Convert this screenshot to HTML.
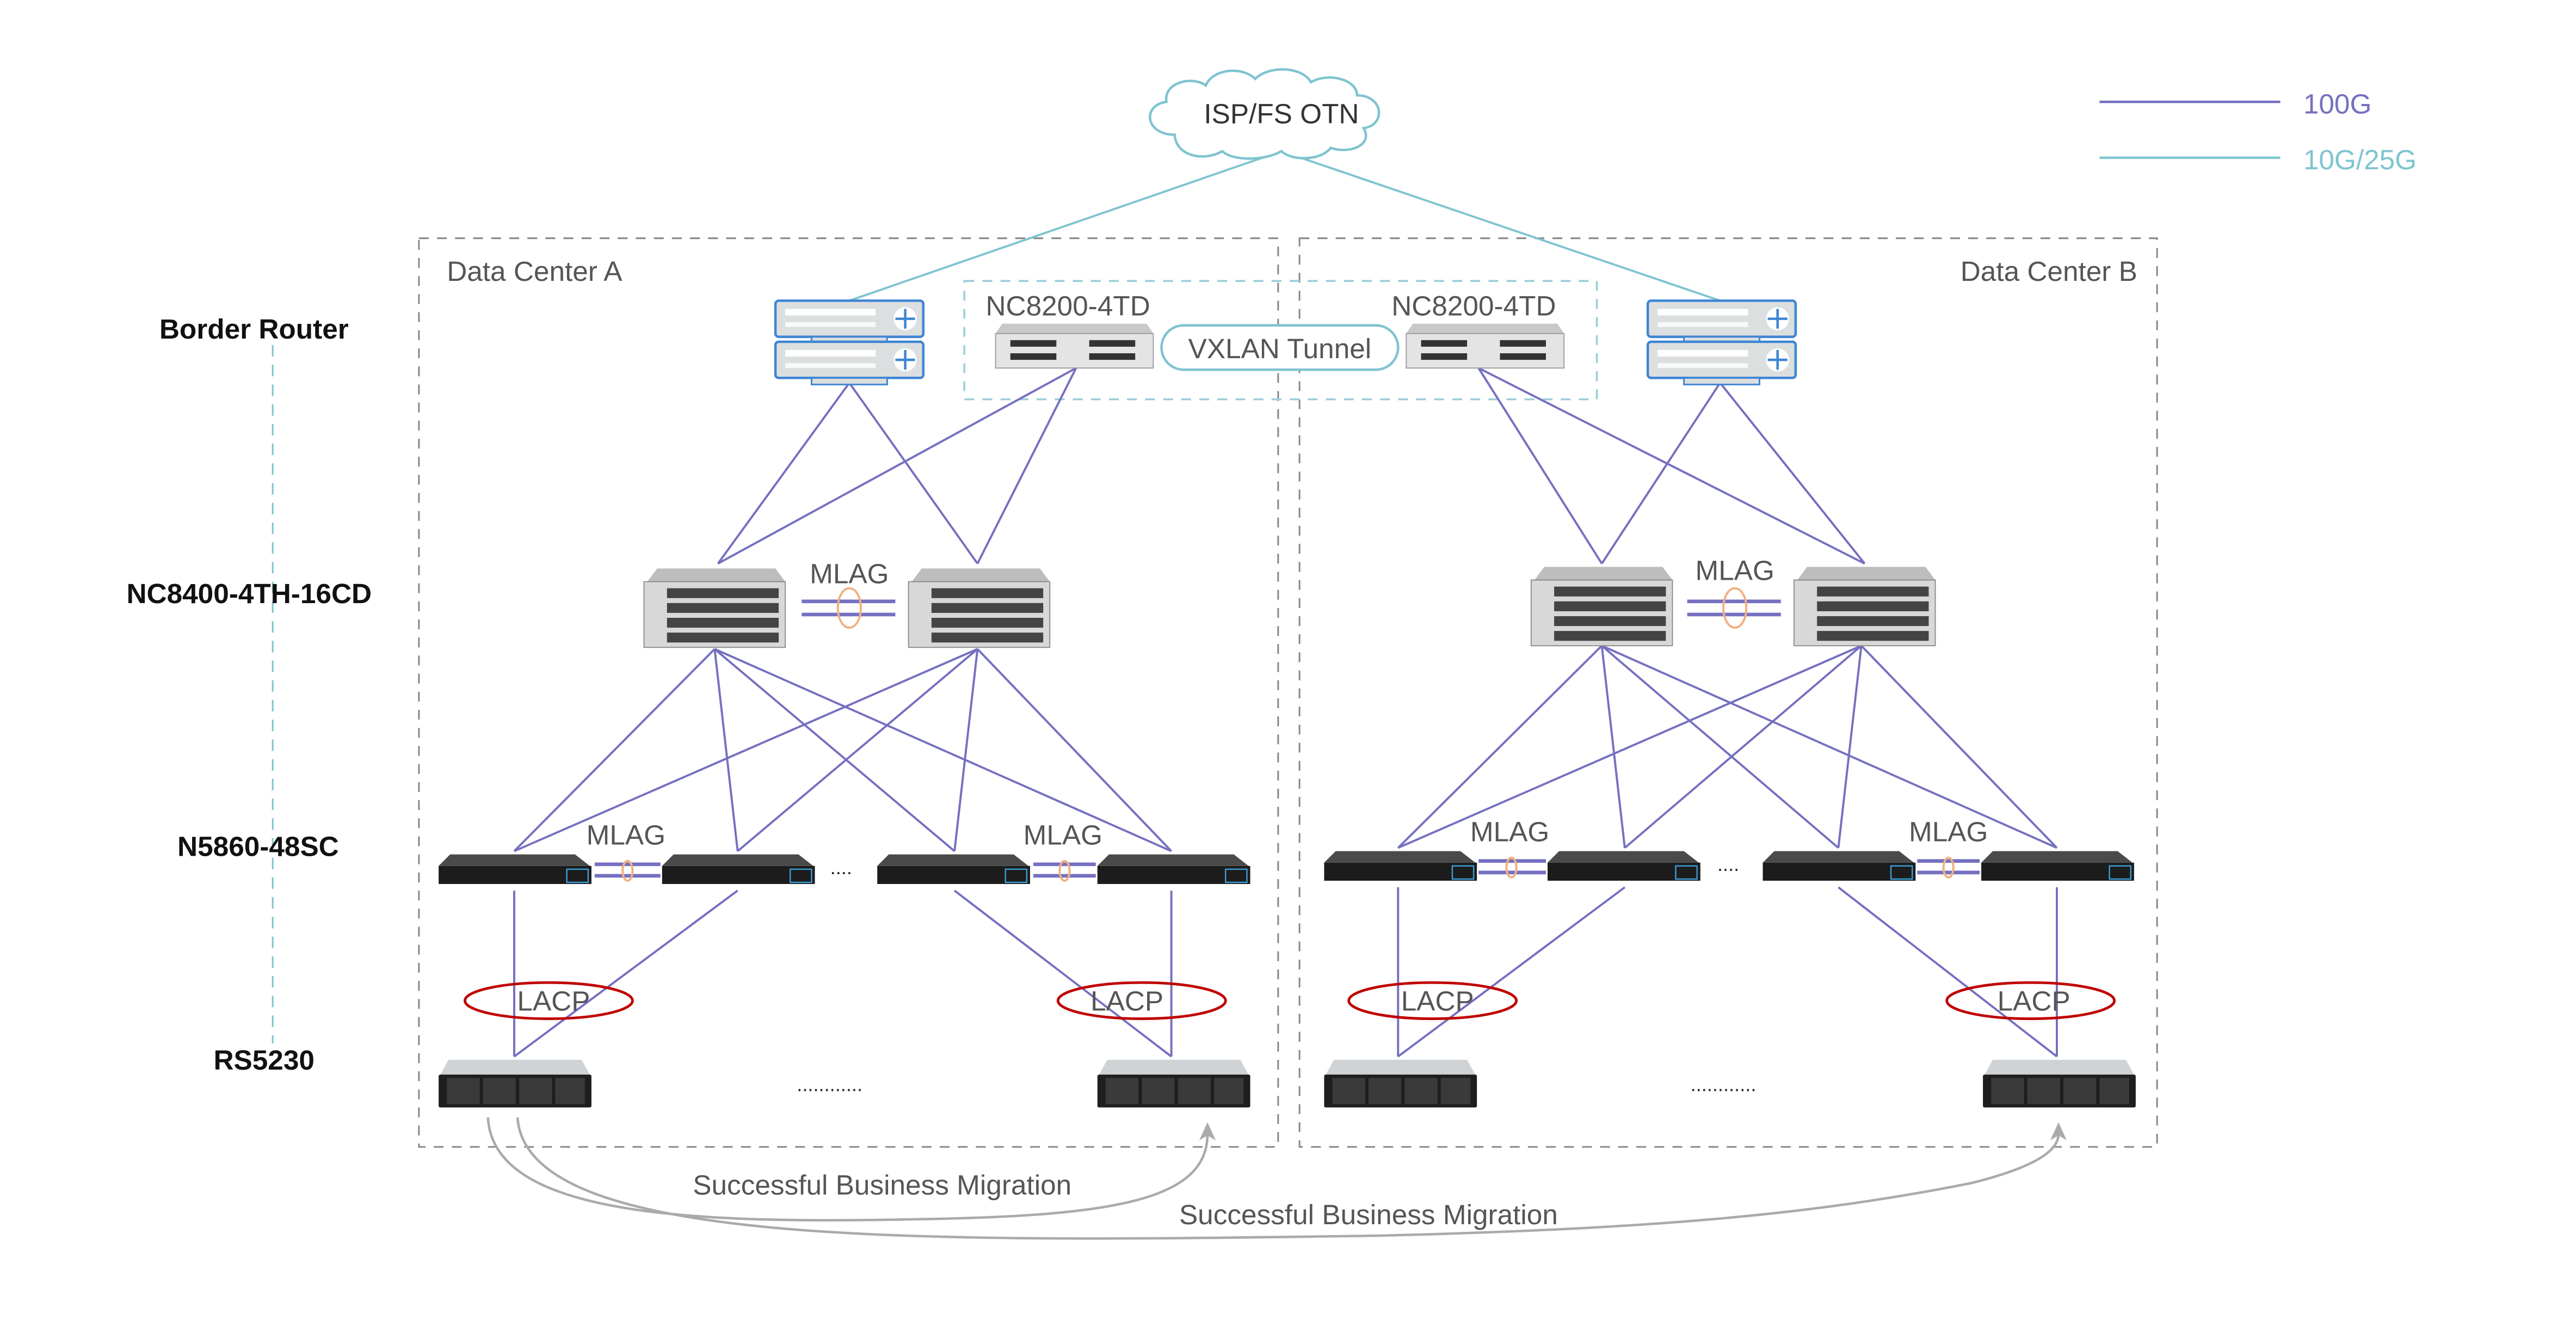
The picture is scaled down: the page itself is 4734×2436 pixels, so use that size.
<!DOCTYPE html>
<html><head><meta charset="utf-8"><style>
html,body{margin:0;padding:0;background:#fff;}
svg{display:block;}
text{font-family:"Liberation Sans",sans-serif;}
</style></head><body>
<svg width="4734" height="2436" viewBox="0 0 1568 807" preserveAspectRatio="none" xmlns="http://www.w3.org/2000/svg">
<defs>
<g id="router">
 <rect x="0" y="0" width="90" height="22" rx="2" fill="#dcdfe0" stroke="#3f86d4" stroke-width="1.5"/>
 <rect x="6" y="5" width="55" height="4" fill="#fff"/>
 <rect x="6" y="13" width="55" height="3" fill="#fff" opacity="0.8"/>
 <circle cx="79" cy="11" r="7" fill="#fff"/>
 <path d="M79 5v12M73 11h12" stroke="#3f86d4" stroke-width="1.5"/>
 <rect x="22" y="22" width="46" height="4" fill="#dcdfe0" stroke="#3f86d4" stroke-width="1"/>
</g>
<g id="nc8200">
 <path d="M3 0h88l4 6H-1z" fill="#c8c8c8"/>
 <rect x="-1" y="6" width="96" height="21" fill="#e4e4e4" stroke="#999" stroke-width="0.6"/>
 <g fill="#333"><rect x="8" y="10" width="28" height="4"/><rect x="8" y="18" width="28" height="4"/><rect x="56" y="10" width="28" height="4"/><rect x="56" y="18" width="28" height="4"/></g>
</g>
<g id="core">
 <path d="M8 0h72l6 8H2z" fill="#bdbdbd"/>
 <rect x="0" y="8" width="86" height="40" fill="#d8d8d8" stroke="#888" stroke-width="0.6"/>
 <g fill="#444"><rect x="14" y="12" width="68" height="6"/><rect x="14" y="21" width="68" height="6"/><rect x="14" y="30" width="68" height="6"/><rect x="14" y="39" width="68" height="6"/></g>
</g>
<g id="acc">
 <path d="M7 0h76l9 7H0z" fill="#4a4a4a"/>
 <rect x="0" y="7" width="93" height="11" fill="#1c1c1c"/>
 <rect x="78" y="9" width="13" height="8" fill="none" stroke="#3a9fd8" stroke-width="0.8"/>
</g>
<g id="srv">
 <path d="M6 0h81l5 9H1z" fill="#cfd3d6"/>
 <rect x="0" y="9" width="93" height="20" rx="1" fill="#1e1e1e"/>
 <g fill="#3a3a3a"><rect x="5" y="11" width="20" height="16"/><rect x="27" y="11" width="20" height="16"/><rect x="49" y="11" width="20" height="16"/><rect x="71" y="11" width="18" height="16"/></g>
</g>
</defs>

<line x1="1278" y1="62" x2="1388" y2="62" stroke="#7570c0" stroke-width="1.5"/>
<text x="1402" y="69" font-size="17" fill="#7570c0">100G</text>
<line x1="1278" y1="96" x2="1388" y2="96" stroke="#7fc4d0" stroke-width="1.5"/>
<text x="1402" y="103" font-size="17" fill="#7fc4d0">10G/25G</text>

<rect x="255" y="145" width="523" height="553" fill="none" stroke="#888" stroke-width="1" stroke-dasharray="6,5"/>
<rect x="791" y="145" width="522" height="553" fill="none" stroke="#888" stroke-width="1" stroke-dasharray="6,5"/>
<text x="272" y="171" font-size="17" fill="#555">Data Center A</text>
<text x="1301" y="171" font-size="17" fill="#555" text-anchor="end">Data Center B</text>
<rect x="587" y="171" width="385" height="72" fill="none" stroke="#9ccfd9" stroke-width="1.2" stroke-dasharray="6,5"/>

<line x1="166" y1="210" x2="166" y2="635" stroke="#7fc4d0" stroke-width="1" stroke-dasharray="7,5"/>
<g font-size="17" font-weight="bold" fill="#111">
<text x="97" y="206">Border Router</text>
<text x="77" y="367">NC8400-4TH-16CD</text>
<text x="108" y="521">N5860-48SC</text>
<text x="130" y="651">RS5230</text>
</g>

<line x1="780" y1="92" x2="517" y2="183" stroke="#7fc4d0" stroke-width="1.3"/>
<line x1="780" y1="92" x2="1047" y2="183" stroke="#7fc4d0" stroke-width="1.3"/>

<g stroke="#7570c0" stroke-width="1.3" fill="none">
<path d="M517 233L437 343M517 233L595 343M655 224L437 343M655 224L595 343"/>
<path d="M1047 233L975 343M1047 233L1135 343M900 224L975 343M900 224L1135 343"/>
<path d="M435 395L313 518M435 395L449 518M435 395L581 518M435 395L713 518M595 395L313 518M595 395L449 518M595 395L581 518M595 395L713 518"/>
<path d="M975 393L851 516M975 393L989 516M975 393L1119 516M975 393L1252 516M1133 393L851 516M1133 393L989 516M1133 393L1119 516M1133 393L1252 516"/>
<path d="M313 542L313 643M449 542L313 643M581 542L713 643M713 542L713 643"/>
<path d="M851 540L851 643M989 540L851 643M1119 540L1252 643M1252 540L1252 643"/>
<g stroke-width="2.2"><path d="M488 366h57M488 374h57M1027 366h57M1027 374h57M362 526h40M362 533h40M629 526h38M629 533h38M900 524h41M900 531h41M1167 524h38M1167 531h38"/></g>
</g>
<g fill="none" stroke="#f0b080" stroke-width="1.3">
<ellipse cx="517" cy="370" rx="7" ry="12"/><ellipse cx="1056" cy="370" rx="7" ry="12"/>
<ellipse cx="382" cy="530" rx="3" ry="6"/><ellipse cx="648" cy="530" rx="3" ry="6"/>
<ellipse cx="920" cy="528" rx="3" ry="6"/><ellipse cx="1186" cy="528" rx="3" ry="6"/>
</g>

<path d="M715 82c-18 0-20-18-5-20c-2-12 16-16 24-10c4-10 22-12 30-4c8-8 28-8 34 2c10-6 28-2 28 8c16 0 18 18 4 20c6 10-8 16-20 12c-6 8-24 8-30 2c-10 6-30 6-36 0c-10 6-28 4-29-10z" fill="#fff" stroke="#7fc4d0" stroke-width="1.5"/>
<text x="780" y="75" font-size="17" fill="#333" text-anchor="middle">ISP/FS OTN</text>

<use href="#router" x="472" y="183"/><use href="#router" x="472" y="208"/>
<use href="#router" x="1003" y="183"/><use href="#router" x="1003" y="208"/>
<use href="#nc8200" x="607" y="197"/><use href="#nc8200" x="857" y="197"/>
<text x="600" y="192" font-size="17" fill="#555">NC8200-4TD</text>
<text x="847" y="192" font-size="17" fill="#555">NC8200-4TD</text>
<rect x="707" y="198" width="144" height="27" rx="13.5" fill="#fff" stroke="#7fc4d0" stroke-width="1.5"/>
<text x="779" y="218" font-size="17" fill="#555" text-anchor="middle">VXLAN Tunnel</text>

<use href="#core" x="392" y="346"/><use href="#core" x="553" y="346"/>
<use href="#core" x="932" y="345"/><use href="#core" x="1092" y="345"/>
<text x="517" y="355" font-size="17" fill="#555" text-anchor="middle">MLAG</text>
<text x="1056" y="353" font-size="17" fill="#555" text-anchor="middle">MLAG</text>

<use href="#acc" x="267" y="520"/><use href="#acc" x="403" y="520"/><use href="#acc" x="534" y="520"/><use href="#acc" x="668" y="520"/>
<use href="#acc" x="806" y="518"/><use href="#acc" x="942" y="518"/><use href="#acc" x="1073" y="518"/><use href="#acc" x="1206" y="518"/>
<text x="381" y="514" font-size="17" fill="#555" text-anchor="middle">MLAG</text>
<text x="647" y="514" font-size="17" fill="#555" text-anchor="middle">MLAG</text>
<text x="919" y="512" font-size="17" fill="#555" text-anchor="middle">MLAG</text>
<text x="1186" y="512" font-size="17" fill="#555" text-anchor="middle">MLAG</text>
<text x="512" y="532" font-size="12" fill="#222" text-anchor="middle">....</text>
<text x="1052" y="530" font-size="12" fill="#222" text-anchor="middle">....</text>

<use href="#srv" x="267" y="645"/><use href="#srv" x="668" y="645"/>
<use href="#srv" x="806" y="645"/><use href="#srv" x="1207" y="645"/>
<text x="505" y="664" font-size="12" fill="#222" text-anchor="middle">............</text>
<text x="1049" y="664" font-size="12" fill="#222" text-anchor="middle">............</text>

<g fill="none" stroke="#c00000" stroke-width="1.6">
<ellipse cx="334" cy="609" rx="51" ry="11"/><ellipse cx="695" cy="609" rx="51" ry="11"/>
<ellipse cx="872" cy="609" rx="51" ry="11"/><ellipse cx="1236" cy="609" rx="51" ry="11"/>
</g>
<g font-size="17" fill="#555" text-anchor="middle">
<text x="337" y="615">LACP</text><text x="686" y="615">LACP</text>
<text x="875" y="615">LACP</text><text x="1238" y="615">LACP</text>
</g>

<g fill="none" stroke="#aaa" stroke-width="1.5">
<path d="M297 680C300 740 420 745 560 742C680 740 735 730 735 690"/>
<path d="M315 680C320 760 560 756 840 752C1000 748 1100 740 1200 720C1240 710 1253 700 1253 690"/>
</g>
<path d="M735 683l-5 11l5-3l5 3z" fill="#aaa"/>
<path d="M1253 683l-5 11l5-3l5 3z" fill="#aaa"/>
<text x="537" y="727" font-size="17" fill="#555" text-anchor="middle">Successful Business Migration</text>
<text x="833" y="745" font-size="17" fill="#555" text-anchor="middle">Successful Business Migration</text>
</svg>
</body></html>
